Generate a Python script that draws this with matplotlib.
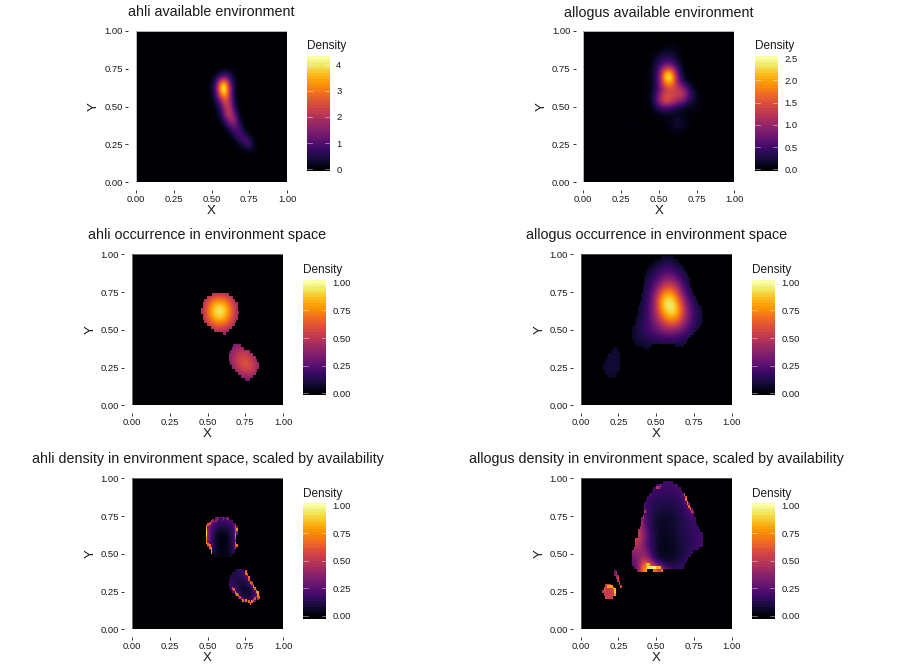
import numpy as np
import matplotlib
matplotlib.use("Agg")
import matplotlib.pyplot as plt
from matplotlib.colors import Normalize
from matplotlib.colorbar import Colorbar
from matplotlib.cm import ScalarMappable

plt.rcParams['font.family'] = ['Liberation Sans', 'DejaVu Sans']

W, H = 897, 671
TITLES = ["ahli available environment", "allogus available environment",
          "ahli occurrence in environment space", "allogus occurrence in environment space",
          "ahli density in environment space, scaled by availability",
          "allogus density in environment space, scaled by availability"]
AXIS_TICKS = [0, .25, .5, .75, 1]
AXIS_LABELS = ["0.00", "0.25", "0.50", "0.75", "1.00"]
BAR_TICKS = [[0, 1, 2, 3, 4], [0, .5, 1, 1.5, 2, 2.5]] + [[0, .25, .5, .75, 1]] * 4
BAR_LABELS = [["0", "1", "2", "3", "4"], ["0.0", "0.5", "1.0", "1.5", "2.0", "2.5"]] + [AXIS_LABELS] * 4
BAR_RANGE = [(-.08, 4.33), (-.045, 2.55), (-.018, 1.025), (-.018, 1.025), (-.027, 1.024), (-.027, 1.024)]

# ---- panel 1: ahli availability
A1_X = [.47, .50, .53, .56, .59, .62, .65, .68, .71, .74, .77, .80, .83]
A1_Y = [.78, .74, .70, .66, .62, .58, .54, .50, .46, .42, .38, .34, .30, .26, .22, .18, .14]
A1 = [
 [0, 0, 0, 0, .02, .02, 0, 0, 0, 0, 0, 0, 0],
 [0, .02, .06, .15, .2, .18, .08, .01, 0, 0, 0, 0, 0],
 [0, .08, .3, .8, 1.0, .7, .2, .02, 0, 0, 0, 0, 0],
 [0, .2, .9, 3.0, 3.4, 1.3, .3, .02, 0, 0, 0, 0, 0],
 [0, .3, 1.2, 4.1, 4.33, 1.9, .3, .02, 0, 0, 0, 0, 0],
 [0, .25, .9, 3.1, 3.8, 1.8, .3, .02, 0, 0, 0, 0, 0],
 [0, .1, .5, 1.7, 2.7, 1.9, .35, .03, 0, 0, 0, 0, 0],
 [0, .05, .25, .9, 2.2, 2.1, .65, .08, 0, 0, 0, 0, 0],
 [0, .02, .15, .55, 1.9, 2.4, 1.1, .15, 0, 0, 0, 0, 0],
 [0, 0, .05, .3, 1.1, 2.1, 1.8, .4, .04, 0, 0, 0, 0],
 [0, 0, 0, .06, .4, 1.2, 1.5, .8, .15, 0, 0, 0, 0],
 [0, 0, 0, 0, .08, .4, 1.0, 1.0, .4, .05, 0, 0, 0],
 [0, 0, 0, 0, 0, .07, .4, .9, 1.0, .5, .07, 0, 0],
 [0, 0, 0, 0, 0, 0, .07, .3, .8, 1.1, .4, .07, 0],
 [0, 0, 0, 0, 0, 0, 0, .05, .15, .4, .3, .1, 0],
 [0, 0, 0, 0, 0, 0, 0, 0, .01, .04, .04, .01, 0],
 [0, 0, 0, 0, 0, 0, 0, 0, 0, 0, 0, 0, 0]]

# ---- panel 2: allogus availability
A2_X = [.42, .46, .50, .54, .58, .62, .66, .70, .74, .78, .82]
A2_Y = [.94, .90, .86, .82, .78, .74, .70, .66, .62, .58, .54, .50, .46, .42, .38, .34, .30]
A2 = [
 [0, 0, 0, 0, .03, .01, 0, 0, 0, 0, 0],
 [0, 0, .02, .05, .09, .04, 0, 0, 0, 0, 0],
 [0, .03, .1, .16, .18, .08, .01, 0, 0, 0, 0],
 [.01, .1, .3, .38, .38, .17, .03, 0, 0, 0, 0],
 [.02, .15, .42, .7, .7, .3, .05, .01, 0, 0, 0],
 [.02, .16, .6, 1.75, 1.75, .55, .08, .01, 0, 0, 0],
 [.03, .16, .7, 2.5, 2.55, .8, .12, .03, 0, 0, 0],
 [.03, .15, .7, 2.0, 2.1, 1.05, .3, .07, .02, 0, 0],
 [.02, .14, .65, 1.3, 1.5, 1.3, 1.0, .35, .08, .02, 0],
 [.03, .2, .9, 1.5, 1.4, 1.4, 1.3, .55, .15, .03, 0],
 [.03, .25, 1.0, 1.7, 1.4, 1.1, .8, .35, .16, .05, .01],
 [.01, .14, .5, .75, .55, .38, .2, .1, .12, .05, .01],
 [0, .04, .14, .17, .16, .13, .08, .05, .06, .03, 0],
 [0, .01, .04, .08, .13, .19, .13, .04, .02, 0, 0],
 [0, 0, .01, .05, .13, .25, .18, .04, 0, 0, 0],
 [0, 0, 0, .01, .06, .12, .07, .01, 0, 0, 0],
 [0, 0, 0, 0, .01, .02, .01, 0, 0, 0, 0]]
A2B_X = [.02, .06, .10, .14, .18, .22, .26, .30, .34, .38]
A2B_Y = [.46, .42, .38, .34, .30, .26, .22, .18, .14, .10, .06]
A2B = [
 [0, 0, 0, 0, 0, 0, 0, 0, 0, 0],
 [0, 0, 0, 0, 0, 0, .01, .02, .03, .01],
 [0, 0, 0, 0, 0, .01, .02, .05, .06, .03],
 [0, 0, 0, 0, 0, .01, .02, .03, .03, .01],
 [0, 0, 0, 0, .01, .01, .01, .01, .01, 0],
 [0, 0, 0, .01, .02, .02, .01, 0, 0, 0],
 [0, 0, 0, .01, .01, .01, 0, 0, 0, 0],
 [0, 0, 0, 0, 0, 0, 0, 0, 0, 0],
 [0, .01, .01, 0, 0, 0, 0, 0, 0, 0],
 [.01, .015, .01, 0, 0, 0, 0, 0, 0, 0],
 [0, 0, 0, 0, 0, 0, 0, 0, 0, 0]]

# ---- panel 3: ahli occurrence (two lobes) and the area where it is non-zero
O1A_X = [.42, .46, .50, .54, .58, .62, .66, .70, .74]
O1A_Y = [.78, .74, .70, .66, .62, .58, .54, .50, .46, .42]
O1A = [
 [.2, .25, .3, .35, .36, .35, .3, .25, .15],
 [.25, .33, .42, .48, .5, .48, .42, .32, .2],
 [.28, .4, .55, .68, .72, .68, .55, .4, .25],
 [.3, .43, .62, .85, .93, .85, .63, .44, .28],
 [.31, .45, .66, .9, 1.0, .9, .67, .46, .29],
 [.3, .43, .62, .83, .92, .83, .63, .44, .28],
 [.27, .38, .54, .67, .72, .67, .54, .39, .25],
 [.22, .33, .43, .5, .53, .5, .43, .32, .2],
 [.17, .25, .32, .37, .38, .37, .32, .23, .14],
 [.12, .17, .2, .23, .24, .23, .2, .14, .09]]
O1B_X = [.60, .64, .68, .72, .76, .80, .84, .88]
O1B_Y = [.44, .40, .36, .32, .28, .24, .20, .16, .12]
O1B = [
 [.12, .18, .24, .25, .2, .14, .08, .04],
 [.17, .28, .36, .38, .32, .22, .14, .07],
 [.22, .34, .45, .5, .47, .35, .22, .12],
 [.24, .38, .5, .58, .57, .46, .31, .17],
 [.22, .37, .51, .61, .63, .53, .38, .22],
 [.17, .31, .45, .56, .6, .54, .4, .24],
 [.12, .22, .34, .44, .48, .45, .35, .22],
 [.06, .14, .22, .29, .32, .32, .26, .15],
 [.03, .07, .11, .16, .18, .18, .14, .08]]
O1_SPANS = [(.73, .53, .64), (.71, .495, .667), (.69, .48, .685), (.67, .47, .695), (.65, .466, .70),
            (.63, .464, .705), (.61, .464, .706), (.59, .466, .705), (.57, .47, .70), (.55, .48, .69),
            (.53, .495, .675), (.51, .515, .665), (.49, .54, .64), (.47, .595, .615),
            (.39, .67, .715), (.37, .655, .745), (.35, .648, .785), (.33, .643, .805), (.31, .642, .82),
            (.29, .645, .83), (.27, .652, .839), (.25, .665, .838), (.23, .68, .832), (.21, .70, .82),
            (.19, .725, .80), (.17, .75, .785)]

# ---- panel 4: allogus occurrence
O2A_X = [.30, .34, .38, .42, .46, .50, .54, .58, .62, .66, .70, .74, .78, .82, .86]
O2A_Y = [.98, .94, .90, .86, .82, .78, .74, .70, .66, .62, .58, .54, .50, .46, .42, .38, .34]
O2A = [
 [0, 0, 0, 0, 0, .03, .06, .08, .06, .03, 0, 0, 0, 0, 0],
 [0, 0, 0, 0, .04, .08, .12, .14, .11, .07, .04, 0, 0, 0, 0],
 [0, 0, 0, .04, .08, .13, .18, .2, .17, .11, .07, .03, 0, 0, 0],
 [0, 0, 0, .07, .12, .18, .27, .31, .27, .18, .1, .05, 0, 0, 0],
 [0, 0, .03, .09, .15, .25, .38, .45, .4, .25, .12, .06, .02, 0, 0],
 [0, 0, .04, .1, .18, .33, .54, .64, .56, .35, .16, .08, .03, 0, 0],
 [0, 0, .05, .11, .22, .42, .72, .82, .73, .45, .22, .11, .04, 0, 0],
 [0, .02, .06, .12, .24, .5, .86, .96, .88, .58, .3, .14, .07, .02, 0],
 [0, .03, .07, .13, .26, .52, .88, 1.0, .96, .68, .37, .19, .09, .03, 0],
 [0, .03, .08, .14, .26, .48, .78, .95, .94, .72, .4, .22, .12, .05, 0],
 [.01, .04, .09, .15, .26, .43, .66, .82, .82, .64, .38, .22, .13, .06, 0],
 [.02, .05, .1, .17, .25, .36, .5, .62, .62, .5, .32, .2, .12, .05, 0],
 [.03, .07, .12, .17, .22, .29, .37, .42, .42, .34, .24, .15, .09, .04, 0],
 [.03, .07, .11, .14, .17, .2, .24, .26, .25, .21, .16, .11, .06, .02, 0],
 [.02, .06, .08, .1, .12, .13, .14, .14, .14, .13, .11, .07, .04, 0, 0],
 [0, .03, .05, .07, .08, .08, .08, .08, .08, .08, .07, .04, .01, 0, 0],
 [0, 0, .01, .02, .03, .03, .03, .03, .03, .03, .02, .01, 0, 0, 0]]
O2B_X = [.12, .16, .20, .24, .28]
O2B_Y = [.40, .36, .32, .28, .24, .20, .16]
O2B = [
 [.04, .05, .06, .06, .04],
 [.05, .07, .08, .08, .05],
 [.05, .08, .09, .09, .06],
 [.05, .08, .1, .1, .06],
 [.05, .08, .1, .09, .06],
 [.05, .07, .08, .08, .05],
 [.04, .05, .06, .05, .04]]
O2_SPANS = [(.97, .53, .61), (.95, .49, .64), (.93, .47, .66), (.91, .45, .68), (.89, .44, .69),
            (.87, .43, .70), (.85, .425, .71), (.83, .42, .715), (.81, .42, .72), (.79, .415, .725),
            (.77, .41, .73), (.75, .41, .74), (.73, .40, .75), (.71, .40, .76), (.69, .395, .77),
            (.67, .39, .785), (.65, .385, .795), (.63, .38, .805), (.61, .38, .81), (.59, .37, .81),
            (.57, .365, .81), (.55, .36, .81), (.53, .355, .805), (.51, .345, .79), (.49, .34, .77),
            (.47, .34, .75), (.45, .335, .73), (.43, .34, .71), (.41, .35, .70), (.39, .36, .47),
            (.39, .62, .68), (.37, .41, .45),
            (.37, .21, .24), (.35, .195, .25), (.33, .18, .255), (.31, .17, .26), (.29, .16, .262),
            (.27, .15, .265), (.25, .145, .265), (.23, .15, .26), (.21, .165, .245), (.19, .18, .23)]

# ---- panel 5: ahli scaled density
S1A_X = [.46, .50, .54, .58, .62, .66, .70]
S1A_Y = [.74, .70, .66, .62, .58, .54, .50, .46]
S1A = [
 [.35, .35, .3, .25, .25, .27, .35],
 [.35, .35, .25, .17, .17, .22, .32],
 [.45, .4, .16, .07, .08, .13, .35],
 [.55, .45, .1, .04, .04, .1, .4],
 [.45, .4, .1, .03, .03, .1, .4],
 [.35, .32, .1, .03, .03, .1, .35],
 [.25, .25, .08, .03, .03, .08, .25],
 [.25, .25, .08, .04, .04, .08, .25]]
S1B_X = [.62, .66, .70, .74, .78, .82, .86]
S1B_Y = [.42, .38, .34, .30, .26, .22, .18, .14]
S1B = [
 [.12, .12, .15, .2, .3, .4, .4],
 [.1, .12, .14, .2, .4, .4, .4],
 [.1, .13, .13, .15, .35, .5, .5],
 [.15, .18, .1, .08, .2, .45, .5],
 [.2, .22, .12, .05, .08, .3, .5],
 [.3, .3, .2, .08, .06, .25, .5],
 [.4, .4, .3, .2, .2, .35, .5],
 [.4, .4, .4, .3, .3, .4, .5]]
S1_SPANS = [(.73, .55, .64), (.71, .515, .67), (.69, .50, .69), (.67, .49, .695), (.65, .49, .695),
            (.63, .488, .695), (.61, .488, .69), (.59, .49, .685), (.57, .495, .685), (.55, .505, .685),
            (.53, .51, .685), (.51, .515, .68), (.49, .535, .665),
            (.39, .68, .735), (.37, .665, .755), (.35, .652, .77), (.33, .645, .785), (.31, .642, .80),
            (.29, .645, .81), (.27, .652, .82), (.25, .665, .833), (.23, .682, .838), (.21, .705, .838),
            (.19, .74, .815)]
S1_RIM = [(.49, .68, .7), (.49, .67, .75), (.49, .66, .8), (.49, .65, .85), (.49, .64, .95), (.49, .63, .98),
          (.49, .62, .95), (.49, .61, .9), (.49, .60, .8), (.49, .59, .75), (.49, .58, .75), (.50, .57, .75),
          (.50, .56, .7), (.51, .55, .7), (.51, .54, .7), (.52, .53, .75), (.52, .52, .8), (.52, .51, .75),
          (.50, .69, .6), (.51, .70, .6), (.52, .71, .5), (.53, .72, .4), (.55, .72, .4), (.56, .73, .4),
          (.60, .73, .4), (.63, .73, .4),
          (.685, .68, .6), (.685, .66, .55), (.685, .64, .6), (.685, .62, .7), (.685, .60, .65),
          (.685, .58, .6), (.685, .56, .6), (.68, .54, .55), (.695, .667, .75), (.695, .556, .7),
          (.75, .38, .7), (.755, .37, .7), (.76, .36, .6), (.77, .345, .7), (.775, .33, .65), (.785, .315, .7),
          (.79, .30, .6), (.80, .285, .75), (.81, .27, .7), (.82, .25, .75), (.83, .24, .8), (.835, .225, .75),
          (.84, .21, .7), (.66, .27, .55), (.67, .26, .65), (.68, .245, .75), (.69, .235, .75), (.70, .22, .6),
          (.71, .21, .55), (.72, .205, .45), (.73, .195, .7), (.75, .19, .7), (.77, .185, .65), (.79, .185, .7),
          (.80, .19, .6), (.815, .20, .6), (.83, .205, .5), (.785, .175, .7)]

# ---- panel 6: allogus scaled density
S2A_X = [.30, .34, .38, .42, .46, .50, .54, .58, .62, .66, .70, .74, .78, .82]
S2A_Y = [.98, .94, .90, .86, .82, .78, .74, .70, .66, .62, .58, .54, .50, .46, .42, .38]
S2A = [
 [.2, .2, .2, .2, .2, .2, .2, .2, .22, .25, .3, .3, .3, .3],
 [.2, .2, .2, .22, .22, .2, .2, .2, .2, .22, .3, .3, .3, .3],
 [.25, .25, .25, .22, .2, .18, .17, .17, .18, .2, .3, .35, .3, .3],
 [.25, .25, .25, .22, .18, .15, .14, .14, .15, .17, .3, .35, .3, .3],
 [.3, .3, .3, .22, .16, .13, .12, .12, .13, .15, .22, .4, .3, .3],
 [.35, .35, .35, .24, .15, .11, .1, .1, .11, .14, .18, .3, .3, .3],
 [.4, .4, .42, .27, .14, .09, .08, .08, .09, .13, .16, .2, .2, .2],
 [.45, .45, .48, .3, .14, .08, .06, .07, .09, .12, .15, .18, .2, .2],
 [.55, .55, .55, .33, .16, .09, .06, .07, .09, .12, .14, .17, .2, .2],
 [.55, .55, .58, .38, .18, .09, .06, .06, .08, .11, .13, .16, .2, .22],
 [.5, .55, .55, .33, .17, .08, .05, .05, .07, .1, .13, .16, .2, .22],
 [.45, .45, .47, .35, .2, .08, .05, .05, .07, .1, .13, .17, .2, .22],
 [.35, .35, .38, .42, .24, .09, .05, .05, .07, .1, .14, .18, .2, .2],
 [.3, .3, .35, .55, .35, .14, .07, .07, .09, .12, .16, .2, .2, .2],
 [.25, .25, .32, .8, .68, .42, .24, .14, .13, .16, .2, .2, .2, .2],
 [.25, .25, .3, .85, .85, .75, .55, .28, .2, .2, .2, .2, .2, .2]]
S2B_X = [.13, .17, .21, .25]
S2B_Y = [.30, .26, .22, .18]
S2B = [[.55, .55, .55, .55], [.55, .52, .55, .6], [.55, .55, .58, .6], [.55, .55, .55, .55]]
S2_SPANS = [(.97, .54, .61), (.95, .50, .64), (.93, .48, .66), (.91, .47, .67), (.89, .45, .68),
            (.87, .44, .695), (.85, .43, .705), (.83, .425, .715), (.81, .425, .725), (.79, .42, .74),
            (.77, .42, .75), (.75, .41, .75), (.73, .405, .755), (.71, .40, .76), (.69, .395, .77),
            (.67, .39, .78), (.65, .385, .79), (.63, .38, .81), (.61, .375, .81), (.59, .365, .81),
            (.57, .36, .81), (.55, .355, .81), (.53, .35, .78), (.51, .34, .745), (.49, .34, .73),
            (.47, .335, .71), (.45, .335, .70), (.43, .34, .69), (.41, .35, .68), (.39, .37, .43),
            (.39, .48, .54),
            (.29, .165, .205), (.27, .15, .22), (.25, .145, .225), (.23, .15, .22), (.21, .165, .21)]
S2_RIM = [(.685, .89, .55), (.69, .875, .65), (.695, .86, .7), (.70, .845, .75), (.705, .83, .7), (.71, .815, .7),
          (.72, .80, .65), (.73, .785, .5), (.74, .77, .4), (.50, .94, .5), (.51, .945, .45), (.52, .95, .4),
          (.42, .78, .5), (.41, .74, .5), (.40, .70, .45), (.43, .43, .85), (.44, .43, .85), (.45, .43, .85),
          (.44, .415, .95), (.45, .415, .95), (.46, .415, .95), (.47, .415, .98), (.48, .415, .98), (.49, .415, .98),
          (.50, .415, .85), (.51, .415, .85), (.52, .415, .85), (.43, .39, .85), (.43, .40, .85), (.53, .39, .7),
          (.225, .38, .3), (.235, .38, .3), (.225, .37, .3), (.235, .37, .45), (.225, .36, .35), (.235, .36, .5),
          (.23, .35, .4), (.24, .35, .5), (.235, .34, .4), (.245, .34, .55), (.24, .33, .5), (.245, .32, .55),
          (.25, .31, .6), (.255, .30, .55), (.26, .29, .65), (.265, .285, .6),
          (.17, .285, .8), (.18, .285, .8), (.19, .285, .8), (.20, .28, .8), (.22, .265, .85), (.225, .25, .9),
          (.22, .235, .8), (.15, .26, .7), (.21, .275, .75)]

# ---- layout in reference pixels
PANELS = [(136, 31), (583.3, 31), (132, 254.3), (580.7, 254.3), (132, 478.3), (580.7, 478.3)]
PANEL_SIZE = 151
BARS = [(307, 56), (755, 56), (303.3, 280), (752, 280), (303.3, 503.3), (752, 503.3)]
BAR_SIZE = (23, 115.3)
TITLE_Y = [12.5, 12.5, 235.5, 235.5, 458.5, 458.5]
XLAB_Y = [211, 211, 434, 434, 658, 658]
YLAB_X = [94, 542, 91, 539.5, 91, 539.5]
EDGE = ['#d8d8d8', '#d8d8d8', '#808080', '#606060', '#808080', '#606060']
TEXT = '#1a1a1a'

IMAGES = [
    [(A1_X, A1_Y, A1)],
    [(A2_X, A2_Y, A2), (A2B_X, A2B_Y, A2B)],
    [(O1A_X, O1A_Y, O1A), (O1B_X, O1B_Y, O1B)],
    [(O2A_X, O2A_Y, O2A), (O2B_X, O2B_Y, O2B)],
    [(S1A_X, S1A_Y, S1A), (S1B_X, S1B_Y, S1B)],
    [(S2A_X, S2A_Y, S2A), (S2B_X, S2B_Y, S2B)],
]
SPANS = [None, None, O1_SPANS, O2_SPANS, S1_SPANS, S2_SPANS]
RIMS = [None, None, None, None, S1_RIM, S2_RIM]

cmap = plt.get_cmap('inferno')
fig = plt.figure(figsize=(W / 100, H / 100), dpi=100, facecolor='white')


def px_axes(x, y, w, h):
    return fig.add_axes([x / W, 1 - (y + h) / H, w / W, h / H])


def draw_window(ax, xs, ys, vals, norm):
    dx, dy = xs[1] - xs[0], ys[0] - ys[1]
    ext = (xs[0] - dx / 2, xs[-1] + dx / 2, ys[-1] - dy / 2, ys[0] + dy / 2)
    ax.imshow(np.array(vals, float), extent=ext, origin='upper', aspect='auto', cmap=cmap, norm=norm,
              interpolation='bicubic', interpolation_stage='data', zorder=1)


for i in range(6):
    x, y = PANELS[i]
    vmin, vmax = BAR_RANGE[i]
    bar_norm = Normalize(vmin, vmax)
    norm = Normalize(0, vmax)
    ax = px_axes(x, y, PANEL_SIZE, PANEL_SIZE)
    ax.set_facecolor(cmap(0.0))
    for xs, ys, vals in IMAGES[i]:
        draw_window(ax, xs, ys, vals, norm)
    if SPANS[i] is not None:
        inside = np.zeros((100, 100), bool)
        for yc, x0, x1 in SPANS[i]:
            r0, r1 = int(round((yc - .01) * 100)), int(round((yc + .01) * 100))
            inside[r0:r1, int(round(x0 * 100)):int(round(x1 * 100))] = True
        cover = np.ma.array(np.zeros((100, 100)), mask=inside)
        ax.imshow(cover, extent=(0, 1, 0, 1), origin='lower', aspect='auto', cmap=cmap, norm=norm,
                  interpolation='nearest', zorder=2)
    if RIMS[i] is not None:
        rim = np.ma.masked_all((100, 100))
        for xc, yc, v in RIMS[i]:
            r, c = min(int(yc * 100), 99), min(int(xc * 100), 99)
            rim[r, c] = v
            rim[r - 1, c] = v
        ax.imshow(rim, extent=(0, 1, 0, 1), origin='lower', aspect='auto', cmap=cmap, norm=norm,
                  interpolation='nearest', zorder=3)
    ax.set_xlim(0, 1)
    ax.set_ylim(0, 1)
    for side in ax.spines:
        ax.spines[side].set_visible(False)
    ax.spines['left'].set_position(('outward', 5.5))
    ax.spines['bottom'].set_position(('outward', 5.5))
    ax.set_xticks(AXIS_TICKS, AXIS_LABELS)
    ax.set_yticks(AXIS_TICKS, AXIS_LABELS)
    ax.tick_params(length=2.4, width=.7, color='#333333', labelcolor=TEXT, labelsize=6.8, pad=1.4)
    ax.add_patch(plt.Rectangle((0, 0), 1, 1, transform=ax.transAxes, fill=False, ec=EDGE[i], lw=.6, zorder=5))

    cx = x + PANEL_SIZE / 2
    fig.text(cx / W, 1 - TITLE_Y[i] / H, TITLES[i], ha='center', va='center', fontsize=10.3, color=TEXT)
    fig.text(cx / W, 1 - XLAB_Y[i] / H, "X", ha='center', va='center', fontsize=9.5, color=TEXT)
    fig.text(YLAB_X[i] / W, 1 - (y + PANEL_SIZE / 2) / H, "Y", rotation=90, ha='center', va='center',
             fontsize=9.5, color=TEXT)

    bx, by = BARS[i]
    cax = px_axes(bx, by, *BAR_SIZE)
    cb = Colorbar(cax, ScalarMappable(norm=bar_norm, cmap=cmap.resampled(40)), orientation='vertical')
    cb.outline.set_visible(False)
    cb.set_ticks(BAR_TICKS[i], labels=BAR_LABELS[i])
    cax.tick_params(length=0, labelsize=6.8, labelcolor=TEXT, pad=4.5)
    for t in BAR_TICKS[i]:
        cax.plot([0, .2], [t, t], color='white', lw=.5, alpha=.6, transform=cax.get_yaxis_transform())
        cax.plot([.8, 1], [t, t], color='white', lw=.5, alpha=.6, transform=cax.get_yaxis_transform())
    cax.set_ylim(vmin, vmax)
    fig.text(bx / W, 1 - (by - 9.5) / H, "Density", ha='left', va='center', fontsize=8.5, color=TEXT)

fig.savefig('out.png', dpi=100, facecolor='white')
